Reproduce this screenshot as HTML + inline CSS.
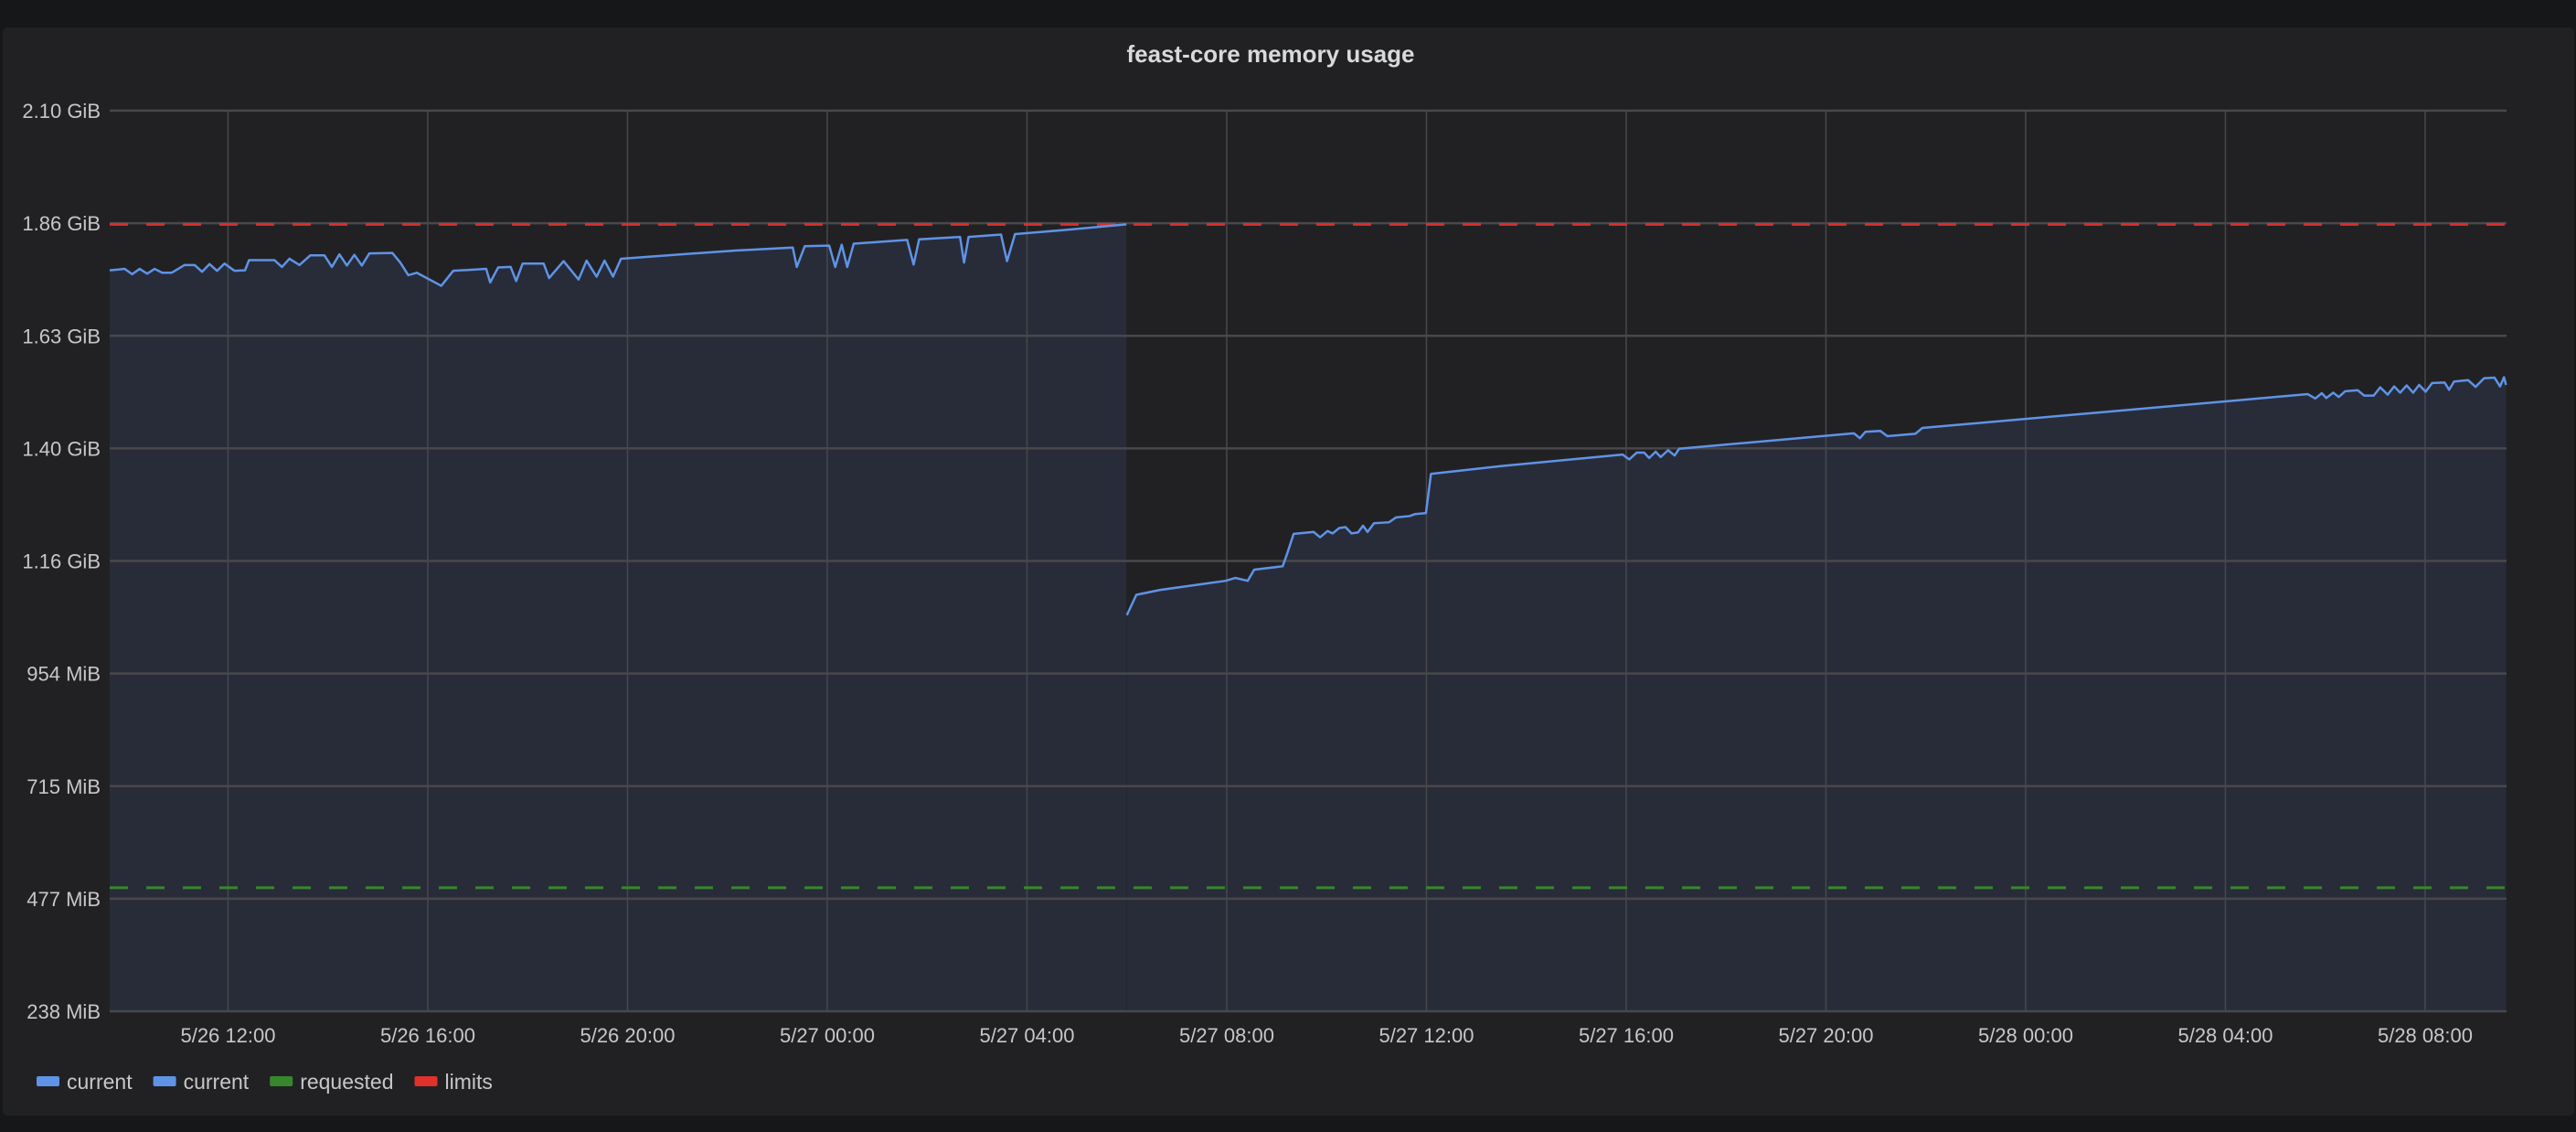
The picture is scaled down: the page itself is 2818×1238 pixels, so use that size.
<!DOCTYPE html>
<html><head><meta charset="utf-8">
<style>
html,body{margin:0;padding:0;background:#161719;width:2818px;height:1238px;overflow:hidden;font-family:"Liberation Sans",sans-serif;}
#panel{position:absolute;left:3px;top:30px;width:2813px;height:1190px;background:#212124;border-radius:5px;}
svg{position:absolute;left:0;top:0;}
</style></head><body>
<div id="panel"></div>
<svg id="chart" width="2818" height="1238"></svg>
<script>
const yTickLabels=["238 MiB","477 MiB","715 MiB","954 MiB","1.16 GiB","1.40 GiB","1.63 GiB","1.86 GiB","2.10 GiB"];
const yMin=0.2328, yStep=0.2328;
const xTickLabels=["5/26 12:00","5/26 16:00","5/26 20:00","5/27 00:00","5/27 04:00","5/27 08:00","5/27 12:00","5/27 16:00","5/27 20:00","5/28 00:00","5/28 04:00","5/28 08:00"];
const xTickHours=[2.37,6.37,10.37,14.37,18.37,22.37,26.37,30.37,34.37,38.37,42.37,46.37];
const s1Hours=[0,0.3,0.45,0.6,0.75,0.9,1.05,1.24,1.5,1.7,1.85,2.0,2.15,2.3,2.5,2.71,2.79,3.3,3.45,3.6,3.8,4.02,4.3,4.45,4.6,4.75,4.9,5.05,5.2,5.66,5.82,5.98,6.15,6.64,6.88,7.54,7.62,7.78,8.03,8.14,8.27,8.69,8.80,9.09,9.39,9.55,9.75,9.91,10.08,10.24,12.53,13.68,13.76,13.92,14.41,14.53,14.66,14.77,14.90,15.97,16.10,16.21,17.03,17.11,17.20,17.85,17.97,18.13,19.08,20.36];
const s1Values=[1.765,1.768,1.757,1.768,1.758,1.768,1.760,1.760,1.776,1.776,1.762,1.778,1.764,1.779,1.764,1.765,1.786,1.786,1.772,1.789,1.776,1.796,1.796,1.772,1.798,1.775,1.797,1.775,1.800,1.801,1.781,1.755,1.760,1.733,1.764,1.768,1.740,1.771,1.772,1.743,1.779,1.779,1.749,1.784,1.746,1.785,1.752,1.785,1.752,1.789,1.806,1.812,1.772,1.815,1.816,1.772,1.818,1.772,1.820,1.828,1.777,1.829,1.834,1.781,1.834,1.839,1.784,1.840,1.848,1.860];
const s2Hours=[20.37,20.56,21.03,22.35,22.54,22.79,22.92,23.49,23.58,23.71,24.11,24.24,24.39,24.49,24.62,24.75,24.87,25.00,25.10,25.19,25.32,25.62,25.76,26.04,26.14,26.36,26.46,27.84,30.30,30.43,30.58,30.73,30.83,30.96,31.06,31.21,31.34,31.43,34.93,35.05,35.16,35.46,35.60,36.16,36.30,44.02,44.17,44.30,44.39,44.53,44.64,44.77,45.02,45.15,45.34,45.47,45.62,45.75,45.87,46.00,46.13,46.25,46.38,46.51,46.76,46.85,46.95,47.23,47.38,47.55,47.76,47.87,47.95,47.99];
const s2Values=[1.052,1.094,1.104,1.123,1.129,1.123,1.146,1.153,1.179,1.220,1.224,1.213,1.226,1.221,1.232,1.234,1.221,1.223,1.237,1.224,1.242,1.244,1.254,1.257,1.261,1.263,1.344,1.360,1.384,1.374,1.388,1.388,1.377,1.390,1.379,1.393,1.382,1.396,1.428,1.418,1.431,1.433,1.422,1.427,1.439,1.509,1.500,1.511,1.501,1.512,1.503,1.515,1.517,1.506,1.506,1.523,1.508,1.525,1.512,1.527,1.512,1.528,1.514,1.532,1.533,1.518,1.535,1.538,1.524,1.542,1.543,1.525,1.544,1.528];
const requestedValue=0.4883;
const limitValue=1.86;

const NS="http://www.w3.org/2000/svg";
const svg=document.getElementById('chart');
const L=120,R=2742,T=121,B=1106,hours=48;
const xS=h=>L+h/hours*(R-L);
const yS=v=>B-(v-yMin)/(yStep*8)*(B-T);
function mk(tag,attrs,parent){const e=document.createElementNS(NS,tag);for(const k in attrs)e.setAttribute(k,attrs[k]);(parent||svg).appendChild(e);return e;}

// title
const title=mk('text',{x:1390,y:68,'text-anchor':'middle',fill:'#d8d9da','font-size':'26','font-weight':'bold','font-family':'Liberation Sans, sans-serif'});
title.textContent='feast-core memory usage';



// fills
function area(hs,vs,name){let d='M'+xS(hs[0])+','+B;hs.forEach((h,i)=>d+=' L'+xS(h)+','+yS(vs[i]));d+=' L'+xS(hs[hs.length-1])+','+B+' Z';
const p=mk('path',{d:d,fill:'#282c39'});}
area(s1Hours,s1Values,'current-area-1');
area(s2Hours,s2Values,'current-area-2');

// grid
yTickLabels.forEach((lab,i)=>{const y=yS(yMin+i*yStep);
const g=mk('line',{x1:L,x2:R,y1:y,y2:y,stroke:'#48484c','stroke-width':2.5});

const t=mk('text',{x:110,y:y+8,'text-anchor':'end',fill:'#c7c7c9','font-size':'22','font-family':'Liberation Sans, sans-serif'});
t.textContent=lab;});
xTickHours.forEach((h,i)=>{const x=xS(h);
const g=mk('line',{x1:x,x2:x,y1:T,y2:B,stroke:'#48484c','stroke-width':1.5});

const t=mk('text',{x:x,y:1140,'text-anchor':'middle',fill:'#c7c7c9','font-size':'22','font-family':'Liberation Sans, sans-serif'});
t.textContent=xTickLabels[i];});

// thresholds
const lim=mk('line',{x1:L,x2:R,y1:yS(limitValue),y2:yS(limitValue),stroke:'#d6302d','stroke-width':3,'stroke-dasharray':'20 20','stroke-dashoffset':'0'});

const req=mk('line',{x1:L,x2:R,y1:yS(requestedValue),y2:yS(requestedValue),stroke:'#37872d','stroke-width':3,'stroke-dasharray':'20 20'});


// lines
function line(hs,vs,name){const pts=hs.map((h,i)=>xS(h)+','+yS(vs[i])).join(' ');
const p=mk('polyline',{points:pts,fill:'none',stroke:'#5f93e6','stroke-width':2.5,'stroke-linejoin':'round'});
}
line(s1Hours,s1Values,'current-line-1');
line(s2Hours,s2Values,'current-line-2');

// legend
const legend=[["current","#5f93e6"],["current","#5f93e6"],["requested","#37872d"],["limits","#e0312b"]];
let lx=40;
legend.forEach(([n,c])=>{const g=mk('g',{});

mk('rect',{x:lx,y:1177,width:25,height:11,rx:2,fill:c},g);
const t=mk('text',{x:lx+33,y:1191,fill:'#c7c7c9','font-size':'23','font-family':'Liberation Sans, sans-serif'},g);
t.textContent=n;
lx+=33+t.getComputedTextLength()+23;});
</script>
</body></html>
